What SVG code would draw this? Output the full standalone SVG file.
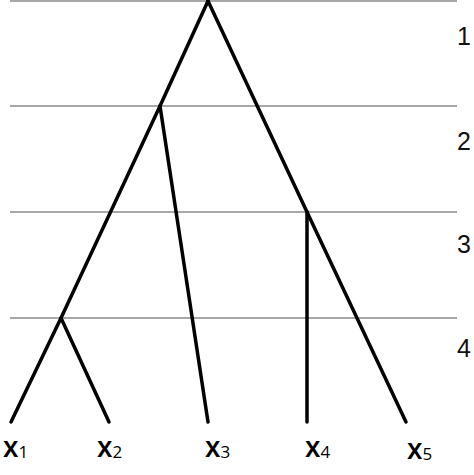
<svg xmlns="http://www.w3.org/2000/svg" width="474" height="475" viewBox="0 0 474 475">
<style>
.lvl{stroke:#8a8a8a;stroke-width:1.5}
.br{stroke:#000;stroke-width:3.5;stroke-linecap:round;fill:none}
.num{font-family:"Liberation Sans",Arial,sans-serif;font-size:25px;fill:#111}
.leaf{font-family:"Open Sans","Liberation Sans",sans-serif;font-size:28px;font-weight:600;fill:#000}
.sub{font-size:17px;font-weight:400}
</style>
<rect width="474" height="475" fill="#fff"/>
<g id="levels">
<line class="lvl" x1="10" y1="1" x2="457" y2="1"/>
<line class="lvl" x1="10" y1="106" x2="457" y2="106"/>
<line class="lvl" x1="10" y1="212" x2="457" y2="212"/>
<line class="lvl" x1="10" y1="318" x2="457" y2="318"/>
</g>
<g id="level-labels">
<text class="num" x="457" y="45">1</text>
<text class="num" x="457" y="150">2</text>
<text class="num" x="457" y="253">3</text>
<text class="num" x="457" y="357">4</text>
</g>
<g id="connectors">
<line class="br" x1="208" y1="1" x2="160" y2="106"/>
<line class="br" x1="208" y1="1" x2="307" y2="212"/>
<line class="br" x1="160" y1="106" x2="61" y2="318"/>
<line class="br" x1="160" y1="106" x2="208" y2="422"/>
<line class="br" x1="307" y1="212" x2="307" y2="422"/>
<line class="br" x1="307" y1="212" x2="406" y2="422"/>
<line class="br" x1="61" y1="318" x2="11" y2="422"/>
<line class="br" x1="61" y1="318" x2="109" y2="422"/>
</g>
<g id="x1"><text class="leaf" x="3" y="457">x<tspan class="sub" dy="1">1</tspan></text></g>
<g id="x2"><text class="leaf" x="97" y="457">x<tspan class="sub" dy="1">2</tspan></text></g>
<g id="x3"><text class="leaf" x="205" y="457">x<tspan class="sub" dy="1">3</tspan></text></g>
<g id="x4"><text class="leaf" x="305" y="457">x<tspan class="sub" dy="1">4</tspan></text></g>
<g id="x5"><text class="leaf" x="407" y="459">x<tspan class="sub" dy="1">5</tspan></text></g>
</svg>
